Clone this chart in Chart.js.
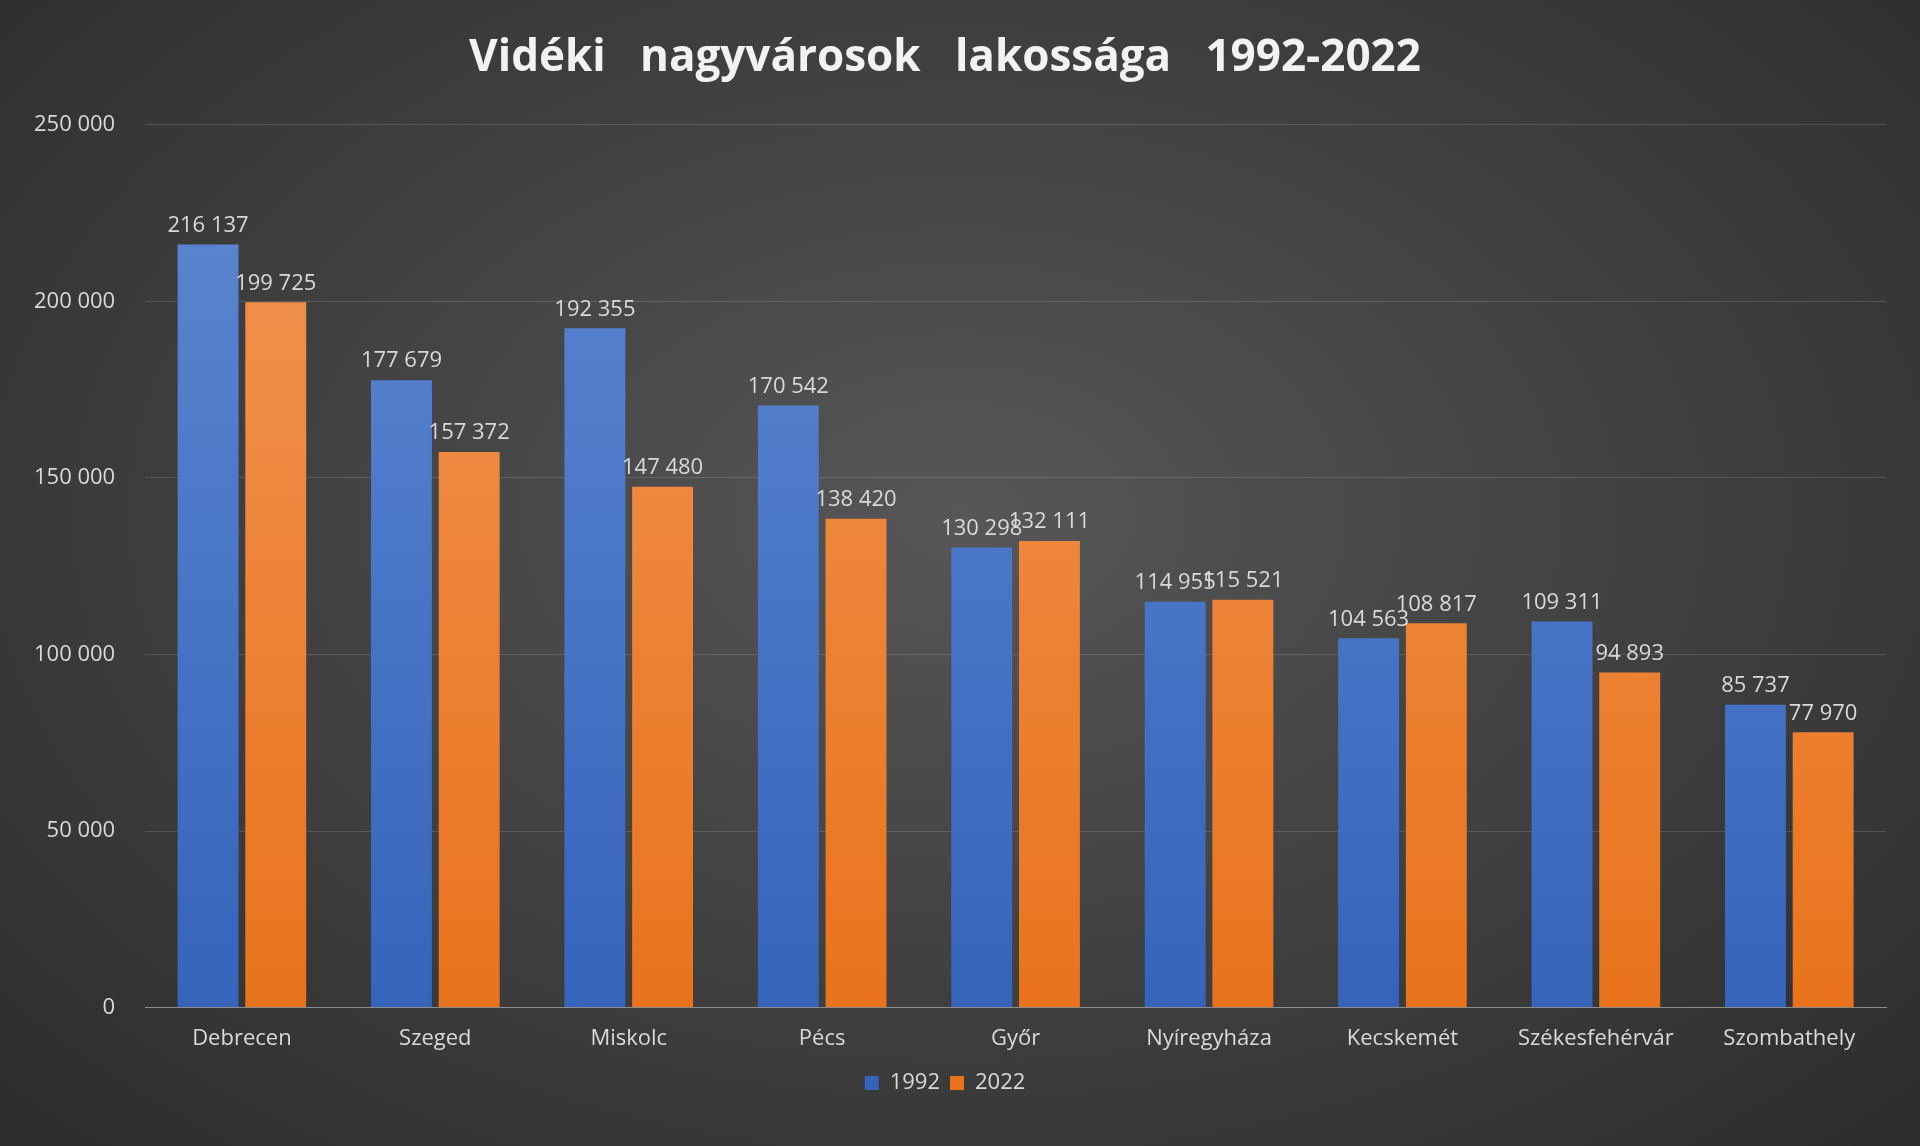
<!DOCTYPE html>
<html lang="hu">
<head>
<meta charset="UTF-8">
<title>Vidéki nagyvárosok lakossága 1992-2022</title>
<style>
    html, body { margin: 0; padding: 0; width: 1920px; height: 1146px; overflow: hidden; }
    body { background: radial-gradient(ellipse at 50% 45%, #575757 0%, #454545 40%, #2c2c2c 100%); }
    #wrap { position: absolute; left: 0; top: 0; width: 1920px; height: 1146px; }
</style>
</head>
<body>
<div id="wrap"><canvas id="chart"></canvas></div>
<script src="https://cdn.jsdelivr.net/npm/chart.js"></script>
<script>
// Data
const cities = ['Debrecen', 'Szeged', 'Miskolc', 'Pécs', 'Győr', 'Nyíregyháza', 'Kecskemét', 'Székesfehérvár', 'Szombathely'];
const pop1992 = [216137, 177679, 192355, 170542, 130298, 114955, 104563, 109311, 85737];
const pop2022 = [199725, 157372, 147480, 138420, 132111, 115521, 108817, 94893, 77970];

const fmt = v => String(v).replace(/\B(?=(\d{3})+(?!\d))/g, ' ');
const txt = '#d9d9d9';
const font = '"Open Sans", "DejaVu Sans", sans-serif';

function grad(top, bottom) {
    return ctx => {
        const area = ctx.chart.chartArea;
        if (!area) return bottom;
        const g = ctx.chart.ctx.createLinearGradient(0, area.top, 0, area.bottom);
        g.addColorStop(0, top);
        g.addColorStop(1, bottom);
        return g;
    };
}

// draws the value above every bar
const valueLabels = {
    id: 'valueLabels',
    afterDatasetsDraw(chart) {
        const c = chart.ctx;
        c.save();
        c.font = '22px ' + font;
        c.fillStyle = txt;
        c.textAlign = 'center';
        c.textBaseline = 'bottom';
        chart.data.datasets.forEach((ds, i) => {
            chart.getDatasetMeta(i).data.forEach((bar, j) => {
                c.fillText(fmt(ds.data[j]), bar.x, bar.y - 8);
            });
        });
        c.restore();
    }
};

new Chart(document.getElementById('chart'), {
    type: 'bar',
    data: {
        labels: cities,
        datasets: [
            { label: '1992', data: pop1992, backgroundColor: grad('#5e88d2', '#3664bb') },
            { label: '2022', data: pop2022, backgroundColor: grad('#f29656', '#e9731c') }
        ]
    },
    options: {
        responsive: true,
        maintainAspectRatio: false,
        animation: false,
        datasets: { bar: { categoryPercentage: 0.7, barPercentage: 0.9 } },
        layout: { padding: { left: 4, right: 34, top: 10, bottom: 42 } },
        plugins: {
            title: {
                display: true,
                text: 'Vidéki   nagyvárosok   lakossága   1992-2022',
                color: '#f2f2f2',
                font: { family: font, size: 44, weight: 'bold' },
                padding: { top: 22, bottom: 40 }
            },
            legend: {
                position: 'bottom',
                labels: {
                    color: txt, font: { family: font, size: 22 },
                    boxWidth: 14, boxHeight: 14, padding: 10
                }
            },
            tooltip: { enabled: false }
        },
        scales: {
            x: {
                grid: { display: false },
                border: { color: '#8c8c8c' },
                ticks: { color: txt, font: { family: font, size: 22 }, padding: 10 }
            },
            y: {
                min: 0, max: 250000,
                ticks: { stepSize: 50000, color: txt, font: { family: font, size: 22 }, padding: 30, callback: v => fmt(v) },
                grid: { color: 'rgba(255,255,255,0.14)', drawTicks: false },
                border: { display: false }
            }
        }
    },
    plugins: [valueLabels]
});
</script>
</body>
</html>
